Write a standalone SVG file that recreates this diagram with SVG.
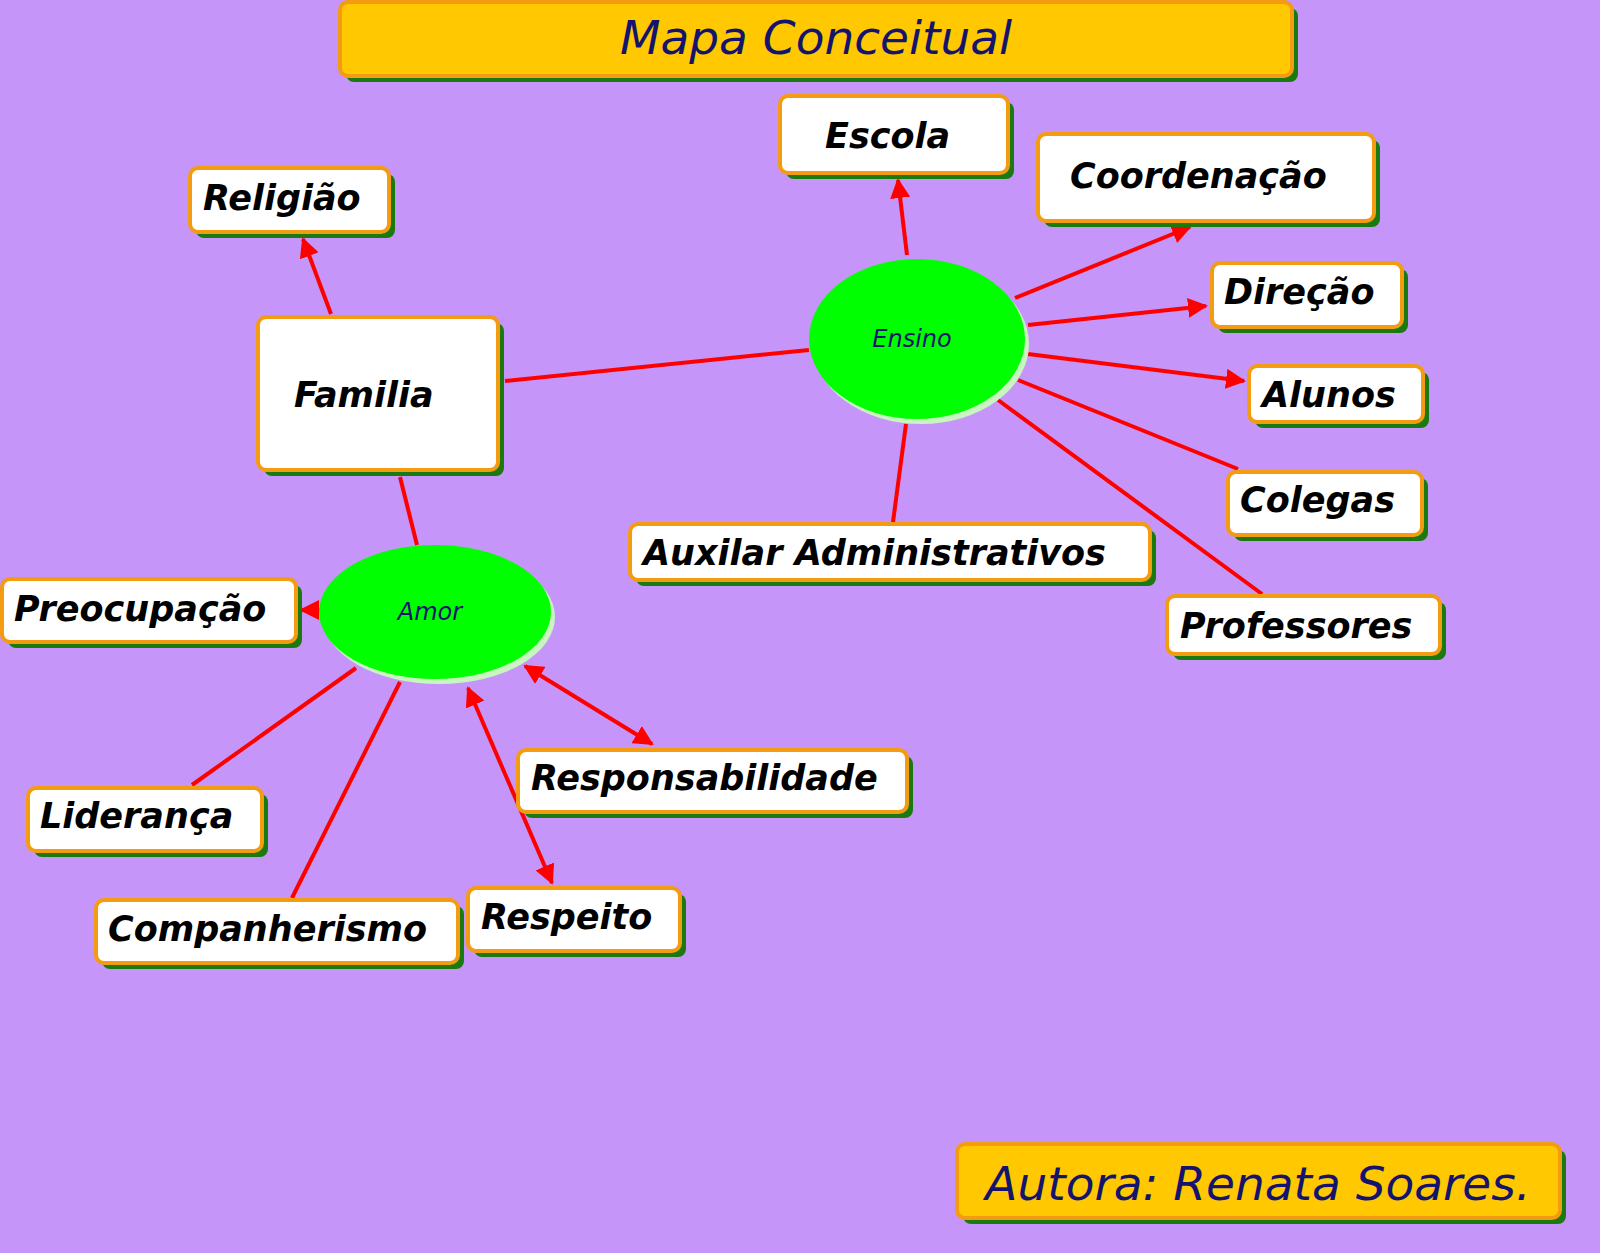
<svg xmlns="http://www.w3.org/2000/svg" width="1600" height="1253" viewBox="0 0 1600 1253">
<style>
.sh{fill:#1a7a10}
.bx{fill:#fff;stroke:#f39c12;stroke-width:4}
.tb{fill:#ffc800;stroke:#f39c12;stroke-width:4}
.t{font-family:"DejaVu Sans",sans-serif;font-weight:bold;font-style:italic;font-size:35px;fill:#000}
.tt{font-family:"DejaVu Sans",sans-serif;font-style:italic;font-size:47px;fill:#14146e}
.et{font-family:"DejaVu Sans",sans-serif;font-style:italic;font-size:24px;fill:#14146e;text-anchor:middle}
.c{stroke:#f00;stroke-width:4;fill:none}
</style>
<defs>
<marker id="a" viewBox="0 0 10 10" refX="9" refY="5" markerWidth="5" markerHeight="5" orient="auto-start-reverse" markerUnits="strokeWidth"><path d="M0,0L10,5L0,10z" fill="#f00"/></marker>
</defs>
<rect width="1600" height="1253" fill="#c695fa"/>
<g id="title"><rect class="sh" x="346" y="8" width="952" height="74" rx="8"/><rect class="tb" x="340" y="2" width="952" height="74" rx="8"/><text class="tt" x="816" y="54" text-anchor="middle">Mapa Conceitual</text></g>
<g id="author"><rect class="sh" x="963" y="1150" width="603" height="74" rx="8"/><rect class="tb" x="957" y="1144" width="603" height="74" rx="8"/><text class="tt" x="1258" y="1200" text-anchor="middle">Autora: Renata Soares.</text></g>
<g id="connectors">
<line class="c" x1="505" y1="381" x2="809" y2="350"/>
<line class="c" x1="907" y1="255" x2="898" y2="180" marker-end="url(#a)"/>
<line class="c" x1="1015" y1="298" x2="1190" y2="227" marker-end="url(#a)"/>
<line class="c" x1="1028" y1="325" x2="1206" y2="306" marker-end="url(#a)"/>
<line class="c" x1="1028" y1="354" x2="1244" y2="381" marker-end="url(#a)"/>
<line class="c" x1="1018" y1="380" x2="1238" y2="469"/>
<line class="c" x1="998" y1="400" x2="1262" y2="594"/>
<line class="c" x1="906" y1="424" x2="893" y2="522"/>
<line class="c" x1="331" y1="314" x2="303" y2="239" marker-end="url(#a)"/>
<line class="c" x1="400" y1="477" x2="417" y2="545"/>
<line class="c" x1="320" y1="610" x2="301" y2="610" marker-end="url(#a)"/>
<line class="c" x1="356" y1="668" x2="192" y2="785"/>
<line class="c" x1="400" y1="682" x2="292" y2="898"/>
<line class="c" x1="468" y1="688" x2="552" y2="883" marker-start="url(#a)" marker-end="url(#a)"/>
<line class="c" x1="525" y1="666" x2="652" y2="744" marker-start="url(#a)" marker-end="url(#a)"/>
</g>
<g id="ensino"><ellipse cx="921" cy="344" rx="108" ry="80" fill="#c8f5c0"/><ellipse cx="917" cy="339" rx="108" ry="80" fill="#00ff00"/><text class="et" x="912" y="347">Ensino</text></g>
<g id="amor"><ellipse cx="439" cy="617" rx="116" ry="67" fill="#c8f5c0"/><ellipse cx="435" cy="612" rx="116" ry="67" fill="#00ff00"/><text class="et" x="430" y="620">Amor</text></g>
<g id="escola"><rect class="sh" x="786" y="102" width="228" height="77" rx="8"/><rect class="bx" x="780" y="96" width="228" height="77" rx="8"/><text class="t" x="825" y="148">Escola</text></g>
<g id="coordenacao"><rect class="sh" x="1044" y="140" width="336" height="87" rx="8"/><rect class="bx" x="1038" y="134" width="336" height="87" rx="8"/><text class="t" x="1070" y="188">Coordenação</text></g>
<g id="religiao"><rect class="sh" x="196" y="174" width="199" height="64" rx="8"/><rect class="bx" x="190" y="168" width="199" height="64" rx="8"/><text class="t" x="203" y="210">Religião</text></g>
<g id="direcao"><rect class="sh" x="1218" y="269" width="190" height="64" rx="8"/><rect class="bx" x="1212" y="263" width="190" height="64" rx="8"/><text class="t" x="1224" y="304">Direção</text></g>
<g id="familia"><rect class="sh" x="264" y="323" width="240" height="153" rx="8"/><rect class="bx" x="258" y="317" width="240" height="153" rx="8"/><text class="t" x="294" y="407">Familia</text></g>
<g id="alunos"><rect class="sh" x="1255" y="372" width="174" height="56" rx="8"/><rect class="bx" x="1249" y="366" width="174" height="56" rx="8"/><text class="t" x="1262" y="407">Alunos</text></g>
<g id="colegas"><rect class="sh" x="1234" y="478" width="194" height="63" rx="8"/><rect class="bx" x="1228" y="472" width="194" height="63" rx="8"/><text class="t" x="1240" y="512">Colegas</text></g>
<g id="auxilar"><rect class="sh" x="636" y="530" width="520" height="56" rx="8"/><rect class="bx" x="630" y="524" width="520" height="56" rx="8"/><text class="t" x="643" y="565">Auxilar Administrativos</text></g>
<g id="professores"><rect class="sh" x="1173" y="602" width="273" height="58" rx="8"/><rect class="bx" x="1167" y="596" width="273" height="58" rx="8"/><text class="t" x="1180" y="638">Professores</text></g>
<g id="preocupacao"><rect class="sh" x="8" y="585" width="294" height="63" rx="8"/><rect class="bx" x="2" y="579" width="294" height="63" rx="8"/><text class="t" x="14" y="621">Preocupação</text></g>
<g id="responsabilidade"><rect class="sh" x="524" y="756" width="389" height="62" rx="8"/><rect class="bx" x="518" y="750" width="389" height="62" rx="8"/><text class="t" x="531" y="790">Responsabilidade</text></g>
<g id="lideranca"><rect class="sh" x="34" y="794" width="234" height="63" rx="8"/><rect class="bx" x="28" y="788" width="234" height="63" rx="8"/><text class="t" x="40" y="828">Liderança</text></g>
<g id="companherismo"><rect class="sh" x="102" y="906" width="362" height="63" rx="8"/><rect class="bx" x="96" y="900" width="362" height="63" rx="8"/><text class="t" x="108" y="941">Companherismo</text></g>
<g id="respeito"><rect class="sh" x="474" y="894" width="212" height="63" rx="8"/><rect class="bx" x="468" y="888" width="212" height="63" rx="8"/><text class="t" x="481" y="929">Respeito</text></g>
</svg>
